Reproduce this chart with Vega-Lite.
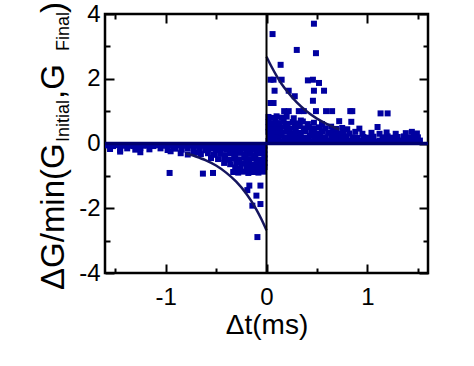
{
"$schema": "https://vega.github.io/schema/vega-lite/v6.json",
"width": 323, "height": 259,
"autosize": {"type": "none"},
"padding": {"left": 105, "top": 14, "right": 46, "bottom": 93},
"background": "white",
"config": {
 "view": {"stroke": "#000", "strokeWidth": 2.5},
 "axis": {"grid": false, "domain": false, "tickColor": "#000", "tickWidth": 2, "labelFont": "Liberation Sans", "labelFontSize": 24, "labelColor": "#000", "titleFont": "Liberation Sans", "titleColor": "#000", "titleFontWeight": "normal"}
},
"datasets": {
 "pts": [
  {"dt":0.47,"dg":3.70},{"dt":0.06,"dg":3.38},{"dt":0.30,"dg":2.89},{"dt":0.49,"dg":2.79},{"dt":0.14,"dg":2.43},{"dt":0.04,"dg":1.97},{"dt":0.07,"dg":1.97},{"dt":0.15,"dg":1.97},{"dt":0.41,"dg":1.95},{"dt":0.46,"dg":1.97},{"dt":0.52,"dg":1.87},{"dt":0.08,"dg":1.63},{"dt":0.22,"dg":1.63},{"dt":0.47,"dg":1.63},{"dt":0.57,"dg":1.63},{"dt":0.28,"dg":1.46},{"dt":0.04,"dg":1.25},{"dt":0.07,"dg":1.25},{"dt":0.46,"dg":1.32},{"dt":0.175,"dg":1.0},{"dt":0.22,"dg":1.0},{"dt":0.32,"dg":1.0},{"dt":0.37,"dg":1.0},{"dt":0.49,"dg":1.0},{"dt":0.59,"dg":1.0},{"dt":0.65,"dg":1.0},{"dt":0.83,"dg":1.0},{"dt":0.85,"dg":1.0},{"dt":1.13,"dg":0.93},{"dt":1.20,"dg":0.93},{"dt":0.72,"dg":0.69},{"dt":0.84,"dg":0.67},{"dt":1.10,"dg":0.51},
  {"dt":0.02,"dg":0.08},{"dt":0.07,"dg":0.06},{"dt":0.12,"dg":0.09},{"dt":0.17,"dg":0.07},{"dt":0.22,"dg":0.08},{"dt":0.27,"dg":0.06},{"dt":0.32,"dg":0.09},{"dt":0.37,"dg":0.07},{"dt":0.42,"dg":0.08},{"dt":0.47,"dg":0.06},{"dt":0.52,"dg":0.09},{"dt":0.57,"dg":0.07},{"dt":0.62,"dg":0.08},{"dt":0.67,"dg":0.06},{"dt":0.72,"dg":0.09},{"dt":0.77,"dg":0.07},{"dt":0.82,"dg":0.08},{"dt":0.87,"dg":0.06},{"dt":0.92,"dg":0.09},{"dt":0.97,"dg":0.07},{"dt":1.02,"dg":0.08},{"dt":1.07,"dg":0.06},{"dt":1.12,"dg":0.09},{"dt":1.17,"dg":0.07},{"dt":1.22,"dg":0.08},{"dt":1.27,"dg":0.06},{"dt":1.32,"dg":0.09},{"dt":1.37,"dg":0.07},{"dt":1.42,"dg":0.08},{"dt":1.47,"dg":0.06},{"dt":1.52,"dg":0.09},
  {"dt":0.03,"dg":0.22},{"dt":0.08,"dg":0.2},{"dt":0.13,"dg":0.24},{"dt":0.18,"dg":0.19},{"dt":0.23,"dg":0.23},{"dt":0.28,"dg":0.2},{"dt":0.33,"dg":0.22},{"dt":0.38,"dg":0.18},{"dt":0.43,"dg":0.24},{"dt":0.48,"dg":0.2},{"dt":0.53,"dg":0.22},{"dt":0.58,"dg":0.19},{"dt":0.64,"dg":0.23},{"dt":0.69,"dg":0.2},{"dt":0.74,"dg":0.18},{"dt":0.79,"dg":0.22},{"dt":0.85,"dg":0.19},{"dt":0.9,"dg":0.17},{"dt":0.96,"dg":0.2},{"dt":1.01,"dg":0.18},{"dt":1.06,"dg":0.21},{"dt":1.15,"dg":0.19},{"dt":1.2,"dg":0.22},{"dt":1.25,"dg":0.18},{"dt":1.3,"dg":0.2},{"dt":1.36,"dg":0.22},{"dt":1.41,"dg":0.18},{"dt":1.46,"dg":0.21},{"dt":1.5,"dg":0.19},
  {"dt":0.02,"dg":0.36},{"dt":0.06,"dg":0.33},{"dt":0.1,"dg":0.38},{"dt":0.15,"dg":0.34},{"dt":0.2,"dg":0.37},{"dt":0.24,"dg":0.32},{"dt":0.29,"dg":0.36},{"dt":0.34,"dg":0.33},{"dt":0.39,"dg":0.38},{"dt":0.45,"dg":0.35},{"dt":0.5,"dg":0.31},{"dt":0.55,"dg":0.37},{"dt":0.61,"dg":0.33},{"dt":0.66,"dg":0.36},{"dt":0.71,"dg":0.3},{"dt":0.76,"dg":0.34},{"dt":0.82,"dg":0.31},{"dt":0.88,"dg":0.36},{"dt":0.95,"dg":0.3},{"dt":1.04,"dg":0.33},{"dt":1.12,"dg":0.3},{"dt":1.19,"dg":0.34},{"dt":1.28,"dg":0.3},{"dt":1.38,"dg":0.32},{"dt":1.44,"dg":0.36},{"dt":1.49,"dg":0.31},
  {"dt":0.02,"dg":0.5},{"dt":0.06,"dg":0.47},{"dt":0.1,"dg":0.52},{"dt":0.14,"dg":0.48},{"dt":0.19,"dg":0.53},{"dt":0.23,"dg":0.46},{"dt":0.28,"dg":0.5},{"dt":0.33,"dg":0.54},{"dt":0.37,"dg":0.47},{"dt":0.42,"dg":0.51},{"dt":0.47,"dg":0.45},{"dt":0.52,"dg":0.5},{"dt":0.58,"dg":0.47},{"dt":0.64,"dg":0.52},{"dt":0.69,"dg":0.45},{"dt":0.75,"dg":0.48},{"dt":0.8,"dg":0.44},{"dt":0.92,"dg":0.46},
  {"dt":0.02,"dg":0.66},{"dt":0.05,"dg":0.62},{"dt":0.09,"dg":0.68},{"dt":0.13,"dg":0.63},{"dt":0.17,"dg":0.67},{"dt":0.21,"dg":0.61},{"dt":0.26,"dg":0.66},{"dt":0.31,"dg":0.62},{"dt":0.36,"dg":0.68},{"dt":0.41,"dg":0.6},{"dt":0.47,"dg":0.64},{"dt":0.55,"dg":0.6},
  {"dt":0.02,"dg":0.82},{"dt":0.06,"dg":0.79},{"dt":0.1,"dg":0.84},{"dt":0.15,"dg":0.8},{"dt":0.2,"dg":0.83},{"dt":0.27,"dg":0.78},{"dt":0.34,"dg":0.71},
  {"dt":-0.96,"dg":-0.91},{"dt":-0.63,"dg":-0.93},{"dt":-0.53,"dg":-0.91},{"dt":-0.17,"dg":-1.30},{"dt":-0.19,"dg":-1.44},{"dt":-0.06,"dg":-1.30},{"dt":-0.10,"dg":-1.61},{"dt":-0.14,"dg":-1.92},{"dt":-0.06,"dg":-1.87},{"dt":-0.09,"dg":-2.89},
  {"dt":-1.57,"dg":-0.06},{"dt":-1.52,"dg":-0.08},{"dt":-1.47,"dg":-0.05},{"dt":-1.42,"dg":-0.07},{"dt":-1.37,"dg":-0.06},{"dt":-1.32,"dg":-0.08},{"dt":-1.27,"dg":-0.05},{"dt":-1.22,"dg":-0.07},{"dt":-1.17,"dg":-0.06},{"dt":-1.12,"dg":-0.08},{"dt":-1.07,"dg":-0.05},{"dt":-1.02,"dg":-0.07},{"dt":-0.97,"dg":-0.06},{"dt":-0.92,"dg":-0.08},{"dt":-0.87,"dg":-0.05},{"dt":-0.82,"dg":-0.07},{"dt":-0.77,"dg":-0.06},{"dt":-0.72,"dg":-0.08},{"dt":-0.67,"dg":-0.05},{"dt":-0.62,"dg":-0.07},{"dt":-0.57,"dg":-0.06},{"dt":-0.52,"dg":-0.08},{"dt":-0.47,"dg":-0.05},{"dt":-0.42,"dg":-0.07},{"dt":-0.37,"dg":-0.06},{"dt":-0.32,"dg":-0.08},{"dt":-0.27,"dg":-0.05},{"dt":-0.22,"dg":-0.07},{"dt":-0.17,"dg":-0.06},{"dt":-0.12,"dg":-0.08},{"dt":-0.07,"dg":-0.05},{"dt":-0.02,"dg":-0.07},
  {"dt":-1.55,"dg":-0.17},{"dt":-1.45,"dg":-0.2},{"dt":-1.38,"dg":-0.15},{"dt":-1.3,"dg":-0.19},{"dt":-1.25,"dg":-0.14},{"dt":-1.16,"dg":-0.18},{"dt":-1.05,"dg":-0.15},{"dt":-0.98,"dg":-0.2},{"dt":-0.9,"dg":-0.16},{"dt":-0.84,"dg":-0.19},{"dt":-0.78,"dg":-0.15},{"dt":-0.72,"dg":-0.2},{"dt":-0.66,"dg":-0.17},{"dt":-0.6,"dg":-0.21},{"dt":-0.55,"dg":-0.16},{"dt":-0.5,"dg":-0.2},{"dt":-0.45,"dg":-0.15},{"dt":-0.4,"dg":-0.19},{"dt":-0.35,"dg":-0.17},{"dt":-0.3,"dg":-0.2},{"dt":-0.25,"dg":-0.16},{"dt":-0.2,"dg":-0.19},{"dt":-0.15,"dg":-0.17},{"dt":-0.1,"dg":-0.2},{"dt":-0.05,"dg":-0.16},{"dt":-0.02,"dg":-0.19},
  {"dt":-1.45,"dg":-0.25},{"dt":-1.25,"dg":-0.27},{"dt":-0.95,"dg":-0.24},{"dt":-0.7,"dg":-0.28},
  {"dt":-0.85,"dg":-0.3},{"dt":-0.78,"dg":-0.34},{"dt":-0.72,"dg":-0.29},{"dt":-0.65,"dg":-0.33},{"dt":-0.58,"dg":-0.3},{"dt":-0.52,"dg":-0.35},{"dt":-0.46,"dg":-0.31},{"dt":-0.41,"dg":-0.36},{"dt":-0.36,"dg":-0.3},{"dt":-0.31,"dg":-0.34},{"dt":-0.26,"dg":-0.29},{"dt":-0.21,"dg":-0.35},{"dt":-0.16,"dg":-0.31},{"dt":-0.11,"dg":-0.36},{"dt":-0.06,"dg":-0.3},{"dt":-0.02,"dg":-0.34},
  {"dt":-0.55,"dg":-0.45},{"dt":-0.48,"dg":-0.48},{"dt":-0.42,"dg":-0.44},{"dt":-0.37,"dg":-0.5},{"dt":-0.32,"dg":-0.46},{"dt":-0.27,"dg":-0.49},{"dt":-0.22,"dg":-0.44},{"dt":-0.17,"dg":-0.48},{"dt":-0.12,"dg":-0.45},{"dt":-0.07,"dg":-0.5},{"dt":-0.02,"dg":-0.46},
  {"dt":-0.42,"dg":-0.6},{"dt":-0.36,"dg":-0.64},{"dt":-0.3,"dg":-0.58},{"dt":-0.25,"dg":-0.62},{"dt":-0.2,"dg":-0.6},{"dt":-0.15,"dg":-0.65},{"dt":-0.1,"dg":-0.59},{"dt":-0.05,"dg":-0.63},{"dt":-0.02,"dg":-0.6},
  {"dt":-0.31,"dg":-0.74},{"dt":-0.26,"dg":-0.77},{"dt":-0.2,"dg":-0.73},{"dt":-0.15,"dg":-0.76},{"dt":-0.1,"dg":-0.74},{"dt":-0.05,"dg":-0.78},{"dt":-0.02,"dg":-0.73},
  {"dt":-0.33,"dg":-0.88},{"dt":-0.28,"dg":-0.9},{"dt":-0.23,"dg":-0.87},{"dt":-0.18,"dg":-0.91},{"dt":-0.13,"dg":-0.88},{"dt":-0.08,"dg":-0.9},{"dt":-0.03,"dg":-0.87}
 ],
 "cpos": [
  {"dt":0,"dg":2.68},{"dt":0.05,"dg":2.37},{"dt":0.1,"dg":2.09},{"dt":0.15,"dg":1.84},{"dt":0.2,"dg":1.63},{"dt":0.3,"dg":1.27},{"dt":0.4,"dg":0.99},{"dt":0.5,"dg":0.77},{"dt":0.6,"dg":0.6},{"dt":0.72,"dg":0.44}
 ],
 "cneg": [
  {"dt":-0.8,"dg":-0.3},{"dt":-0.7,"dg":-0.4},{"dt":-0.6,"dg":-0.52},{"dt":-0.5,"dg":-0.68},{"dt":-0.4,"dg":-0.9},{"dt":-0.3,"dg":-1.18},{"dt":-0.2,"dg":-1.55},{"dt":-0.15,"dg":-1.78},{"dt":-0.1,"dg":-2.04},{"dt":-0.05,"dg":-2.34},{"dt":0,"dg":-2.68}
 ]
},
"layer": [
 {"data": {"name": "pts"},
  "mark": {"type": "square", "filled": true, "size": 36, "color": "#0000a0", "opacity": 1},
  "encoding": {
   "x": {"field": "dt", "type": "quantitative", "scale": {"domain": [-1.6, 1.6], "nice": false, "zero": false},
         "axis": {"orient": "bottom", "values": [-1, 0, 1], "tickSize": -9, "labelPadding": 21, "labelExpr": "'' + datum.value", "title": "Δt(ms)", "titleFontSize": 28, "titlePadding": 2}},
   "y": {"field": "dg", "type": "quantitative", "scale": {"domain": [-4, 4], "nice": false, "zero": false},
         "axis": {"orient": "left", "values": [-4, -2, 0, 2, 4], "tickSize": -9, "labelPadding": 14, "labelExpr": "'' + datum.value", "title": null}}
  }},
 {"data": {"name": "cpos"},
  "mark": {"type": "line", "color": "#15155f", "strokeWidth": 2.5, "interpolate": "monotone"},
  "encoding": {
   "x": {"field": "dt", "type": "quantitative", "axis": {"orient": "bottom", "values": [-1.5, -0.5, 0.5, 1.5], "tickSize": -5, "labels": false, "title": null}},
   "y": {"field": "dg", "type": "quantitative", "axis": {"orient": "left", "values": [-3, -1, 1, 3], "tickSize": -5, "labels": false, "title": null}}
  }},
 {"data": {"name": "cneg"},
  "mark": {"type": "line", "color": "#15155f", "strokeWidth": 2.5, "interpolate": "monotone"},
  "encoding": {
   "x": {"field": "dt", "type": "quantitative", "axis": {"orient": "top", "values": [-1, 0, 1], "tickSize": -9, "labels": false, "title": null}},
   "y": {"field": "dg", "type": "quantitative", "axis": {"orient": "right", "values": [-4, -2, 0, 2, 4], "tickSize": -9, "labels": false, "title": null}}
  }},
 {"data": {"values": [{}]},
  "mark": {"type": "rule", "color": "#000", "strokeWidth": 2},
  "encoding": {
   "x": {"datum": 0, "type": "quantitative", "axis": {"orient": "top", "values": [-1.5, -0.5, 0.5, 1.5], "tickSize": -5, "labels": false, "title": null}}
  }},
 {"data": {"values": [{}]},
  "mark": {"type": "rule", "color": "#000070", "strokeWidth": 3.5},
  "encoding": {
   "y": {"datum": 0, "type": "quantitative", "axis": {"orient": "right", "values": [-3, -1, 1, 3], "tickSize": -5, "labels": false, "title": null}}
  }},
 {"data": {"values": [{}]},
  "mark": {"type": "text", "angle": 270, "align": "left", "baseline": "alphabetic", "font": "Liberation Sans", "fontSize": 33, "color": "#000"},
  "encoding": {"x": {"value": -41}, "y": {"value": 276}, "text": {"value": "ΔG/min(G"}}},
 {"data": {"values": [{}]},
  "mark": {"type": "text", "angle": 270, "align": "left", "baseline": "alphabetic", "font": "Liberation Sans", "fontSize": 18, "color": "#000"},
  "encoding": {"x": {"value": -36}, "y": {"value": 128}, "text": {"value": "Initial"}}},
 {"data": {"values": [{}]},
  "mark": {"type": "text", "angle": 270, "align": "left", "baseline": "alphabetic", "font": "Liberation Sans", "fontSize": 33, "color": "#000"},
  "encoding": {"x": {"value": -41}, "y": {"value": 85}, "text": {"value": ",G"}}},
 {"data": {"values": [{}]},
  "mark": {"type": "text", "angle": 270, "align": "left", "baseline": "alphabetic", "font": "Liberation Sans", "fontSize": 18, "color": "#000"},
  "encoding": {"x": {"value": -36}, "y": {"value": 37}, "text": {"value": "Final"}}},
 {"data": {"values": [{}]},
  "mark": {"type": "text", "angle": 270, "align": "left", "baseline": "alphabetic", "font": "Liberation Sans", "fontSize": 33, "color": "#000"},
  "encoding": {"x": {"value": -41}, "y": {"value": -1}, "text": {"value": ")"}}}
],
"resolve": {"axis": {"x": "independent", "y": "independent"}}
}
